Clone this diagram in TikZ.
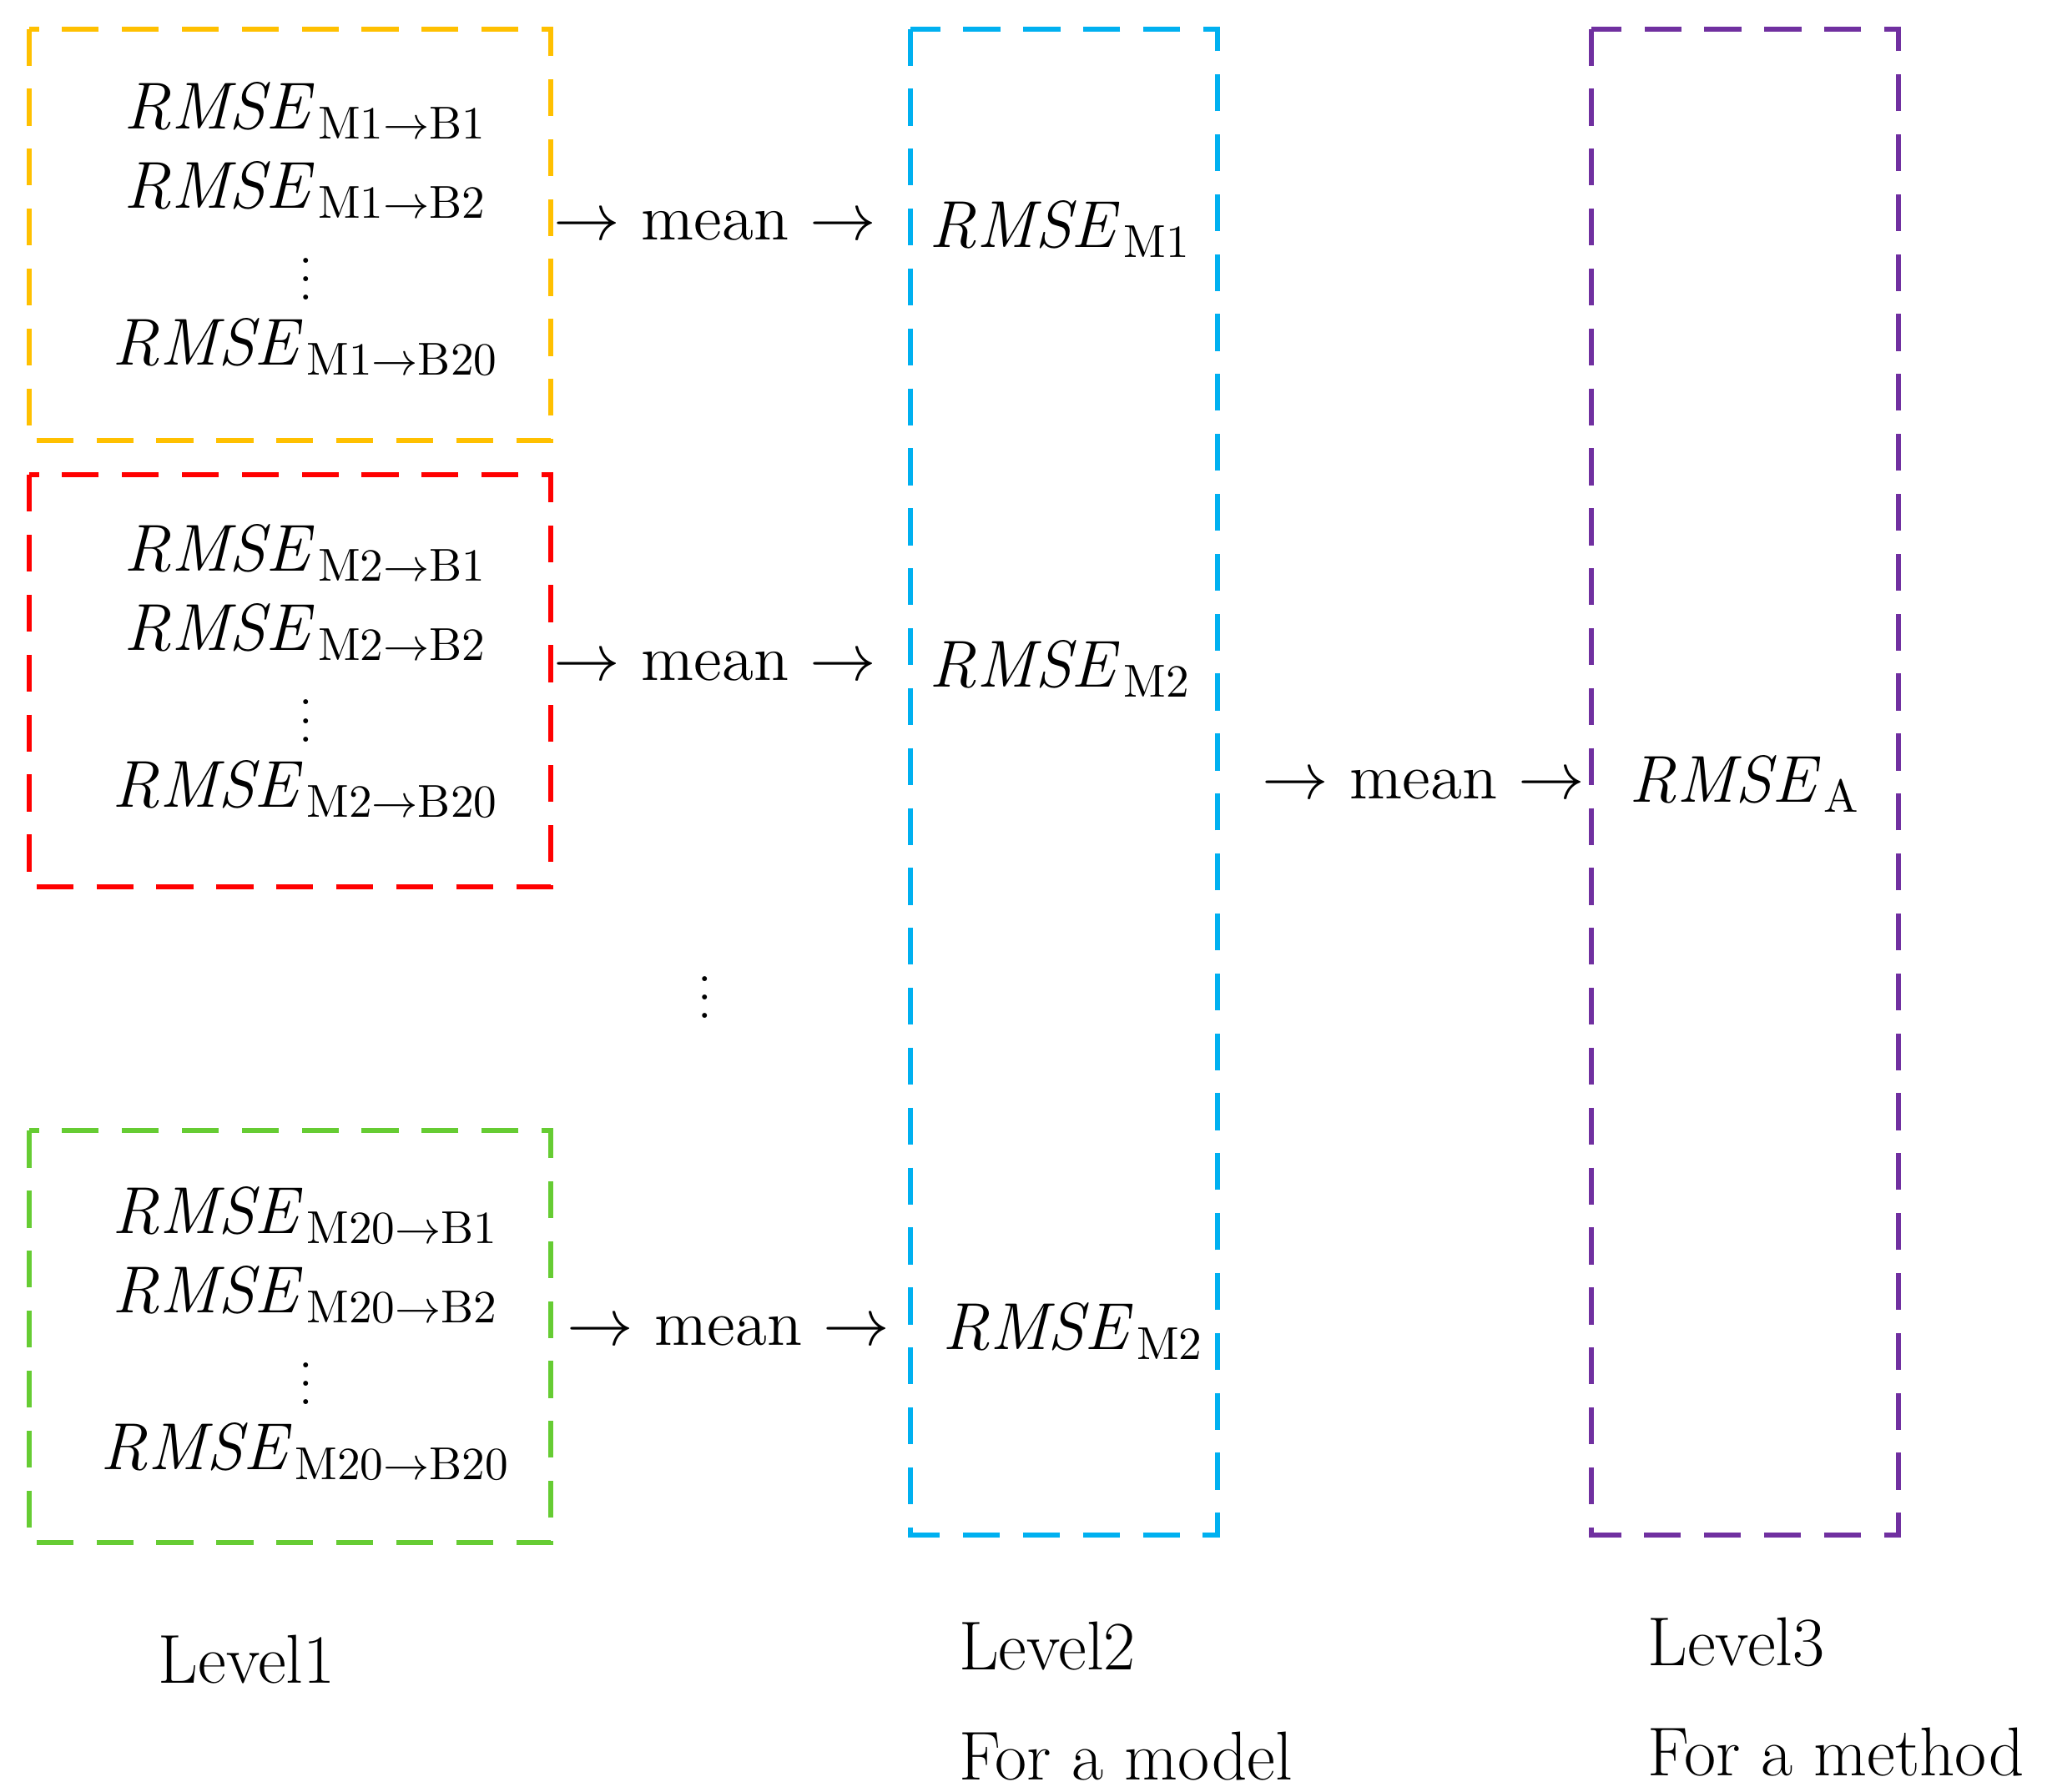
\documentclass[tikz,border=0pt]{standalone}
\usepackage{tikz}
\usetikzlibrary{positioning}
\definecolor{cyellow}{RGB}{255,192,0}
\definecolor{cred}{RGB}{255,0,0}
\definecolor{cgreen}{RGB}{102,204,51}
\definecolor{ccyan}{RGB}{0,176,240}
\definecolor{cpurple}{RGB}{112,48,160}
\tikzset{
  box/.style={draw=#1, line width=1.1pt, dash pattern=on 8pt off 5pt},
  val/.style={font=\fontsize{14}{16}\selectfont, inner sep=0pt},
  dots/.style={font=\fontsize{11}{12}\selectfont, inner sep=0pt},
  lvl/.style={font=\fontsize{15}{18}\selectfont, inner sep=0pt, anchor=west}
}
\newcommand{\rmse}[1]{$\mathit{RMSE}_{\mathrm{#1}}$}
\begin{document}
\begin{tikzpicture}
\useasboundingbox (0,0) rectangle (15.6,-13.66);

% level 1 boxes
\draw[box=cyellow] (0.22,-0.22) rectangle (4.20,-3.36);
\draw[box=cred] (0.22,-3.62) rectangle (4.20,-6.76);
\draw[box=cgreen] (0.22,-8.62) rectangle (4.20,-11.76);
% level 2 and 3 boxes
\draw[box=ccyan] (6.94,-0.22) rectangle (9.28,-11.70);
\draw[box=cpurple] (12.13,-0.22) rectangle (14.47,-11.70);

\node[val] (A1) at (2.33,-0.85) {\rmse{M1\rightarrow B1}};
\node[val] (A2) at (2.33,-1.45) {\rmse{M1\rightarrow B2}};
\node[dots] (A3) at (2.33,-2.02) {$\vdots$};
\node[val] (A4) at (2.33,-2.65) {\rmse{M1\rightarrow B20}};

\node[val] (B1) at (2.33,-4.22) {\rmse{M2\rightarrow B1}};
\node[val] (B2) at (2.33,-4.82) {\rmse{M2\rightarrow B2}};
\node[dots] (B3) at (2.33,-5.39) {$\vdots$};
\node[val] (B4) at (2.33,-6.02) {\rmse{M2\rightarrow B20}};

\node[val] (C1) at (2.33,-9.27) {\rmse{M20\rightarrow B1}};
\node[val] (C2) at (2.33,-9.87) {\rmse{M20\rightarrow B2}};
\node[dots] (C3) at (2.33,-10.44) {$\vdots$};
\node[val] (C4) at (2.33,-11.07) {\rmse{M20\rightarrow B20}};

\node[dots] (dots) at (5.37,-7.50) {$\vdots$};

\node[val] (m1) at (5.45,-1.72) {$\rightarrow$ mean $\rightarrow$};
\node[val] (m2) at (5.45,-5.08) {$\rightarrow$ mean $\rightarrow$};
\node[val] (m3) at (5.55,-10.15) {$\rightarrow$ mean $\rightarrow$};
\node[val] (m4) at (10.85,-5.98) {$\rightarrow$ mean $\rightarrow$};

\node[val] (R1) at (8.08,-1.75) {\rmse{M1}};
\node[val] (R2) at (8.08,-5.10) {\rmse{M2}};
\node[val] (R3) at (8.18,-10.15) {\rmse{M2}};
\node[val] (RA) at (13.30,-5.98) {\rmse{A}};

\node[lvl] (L1) at (1.20,-12.65) {Level1};
\node[lvl] (L2) at (7.30,-12.55) {Level2};
\node[lvl, below=0.45 of L2.south west, anchor=north west] (F2) {For a model};
\node[lvl] (L3) at (12.55,-12.52) {Level3};
\node[lvl, below=0.45 of L3.south west, anchor=north west] (F3) {For a method};
\end{tikzpicture}
\end{document}
